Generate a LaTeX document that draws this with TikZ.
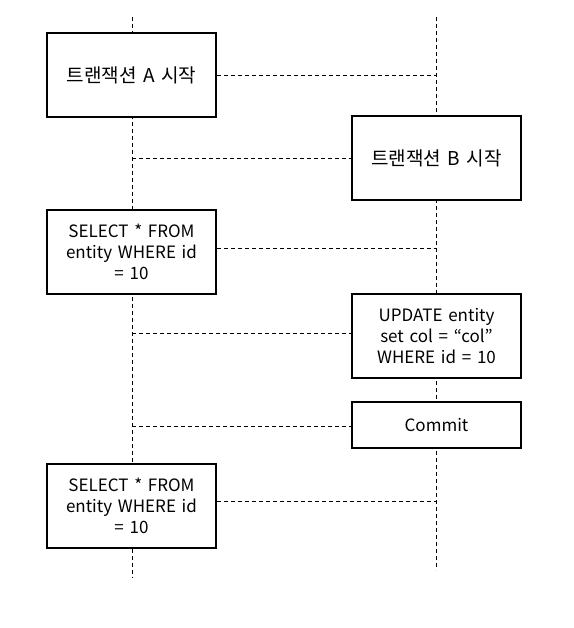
\documentclass[tikz,border=0pt]{standalone}
\usepackage{fontspec}
\setmainfont{Noto Sans CJK KR}[WordSpace=1.5]
\newfontfamily\krfont{Noto Sans CJK KR}[Scale=1.12,WordSpace=1.5]
\usetikzlibrary{positioning}

\begin{document}
\begin{tikzpicture}[x=1pt,y=-1pt,
	every node/.style={font=\fontsize{17}{21}\selectfont},
	txbox/.style={draw,line width=2pt,fill=white,minimum width=169pt,minimum height=84pt,
		align=center,inner sep=2pt},
	life/.style={dashed,line width=0.8pt,dash pattern=on 4pt off 3pt},
	msg/.style={life}]
\useasboundingbox (0,0) rectangle (573,628);
\coordinate (atop) at (132,17);
\coordinate (abot) at (132,578);
\coordinate (btop) at (436,17);
\coordinate (bbot) at (436,570);
\draw[life] (atop) -- (abot);
\draw[life] (btop) -- (bbot);

\node[txbox] (startA) at (131.5,75) {\krfont 트랜잭션 A 시작};
\node[txbox] (startB) at (436.5,158.5) {\krfont 트랜잭션 B 시작};
\node[txbox] (selA) at (131.5,252) {SELECT * FROM\\entity WHERE id\\= 10};
\node[txbox] (updB) at (436.5,336) {UPDATE entity\\set col = “col”\\WHERE id = 10};
\node[txbox,minimum height=46pt] (commitB) at (436.5,425) {Commit};
\node[txbox] (selA2) at (131.5,506) {SELECT * FROM\\entity WHERE id\\= 10};

\draw[msg] (startA.east) -- (startA.east -| btop);
\draw[msg] (startB.west -| atop) -- (startB.west);
\draw[msg] ([yshift=4pt]selA.east) -- ([yshift=4pt]selA.east -| btop);
\draw[msg] ([yshift=3pt]updB.west -| atop) -- ([yshift=3pt]updB.west);
\draw[msg] ([yshift=-1pt]commitB.west -| atop) -- ([yshift=-1pt]commitB.west);
\draw[msg] ([yshift=5pt]selA2.east) -- ([yshift=5pt]selA2.east -| btop);
\end{tikzpicture}
\end{document}
